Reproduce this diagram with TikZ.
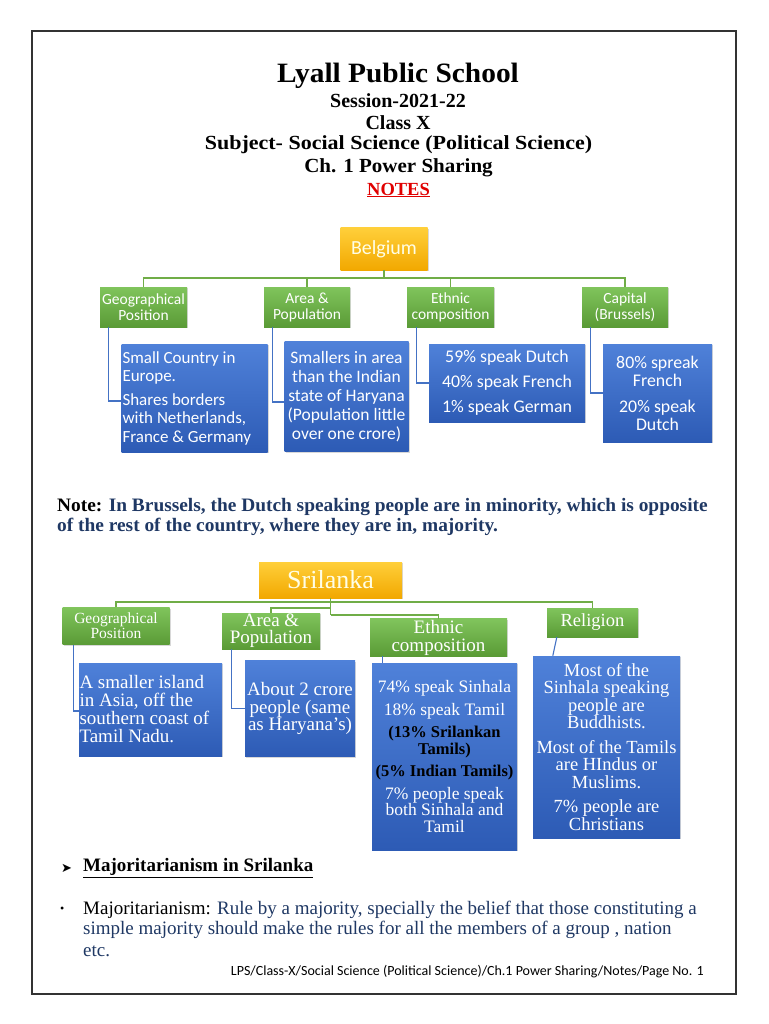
\documentclass[tikz,border=0pt]{standalone}
\usepackage{graphicx}
\usepackage{fontspec}
\setmainfont{Liberation Serif}
\newfontfamily\calfont{Carlito}
\newfontfamily\symfont{DejaVu Sans}
\usetikzlibrary{shadows}
\definecolor{navy}{HTML}{1F3864}
\definecolor{G1}{HTML}{80C45C}
\definecolor{G2}{HTML}{5A9B36}
\definecolor{B1}{HTML}{4F81D9}
\definecolor{B2}{HTML}{2D5BB5}
\definecolor{Y1}{HTML}{FFCF3A}
\definecolor{Y2}{HTML}{F2A800}
\definecolor{GL}{HTML}{70AD47}
\definecolor{BL}{HTML}{4472C4}
\definecolor{notered}{HTML}{E00000}
\tikzset{
  shad/.style={drop shadow={opacity=0.3,shadow xshift=1.3pt,shadow yshift=-1.3pt}},
  ybox/.style={top color=Y1, bottom color=Y2, text=white, align=center, inner sep=1pt, shad},
  gbox/.style={top color=G1, bottom color=G2, text=white, align=center, inner sep=1pt, shad},
  bbox/.style={top color=B1, bottom color=B2, text=white, align=center, inner sep=1pt, shad},
  gline/.style={draw=GL, line width=1.1pt},
  bline/.style={draw=BL, line width=1.1pt},
  hdr/.style={font=\bfseries\fontsize{20}{22}\selectfont, inner sep=0pt},
  txt/.style={anchor=west, inner sep=0pt},
}
\begin{document}
\begin{tikzpicture}[x=1pt,y=-1pt]
\useasboundingbox (0,0) rectangle (768,1024);
\fill[white] (0,0) rectangle (768,1024);
\draw[line width=1.5pt, draw=black!80] (32,31) rectangle (736,994);

% header
\node[font=\bfseries\fontsize{28}{30}\selectfont, inner sep=0pt] (t1) at (398,76) {\scalebox{1.05}[1]{Lyall Public School}};
\node[hdr] (t2) at (398,101) {Session-2021-22};
\node[hdr] (t3) at (398,123) {Class X};
\node[hdr] (t4) at (398.5,145) {\scalebox{1.1}[1]{Subject- Social Science (Political Science)}};
\node[hdr] (t5) at (398.5,168) {\scalebox{1.05}[1]{Ch. 1 Power Sharing}};
\node[hdr, font=\bfseries\fontsize{18.5}{22}\selectfont, text=notered] (t6) at (398.5,190) {\underline{NOTES}};

% Belgium
\node[ybox, minimum width=87pt, minimum height=42pt, font=\calfont\fontsize{20}{24}\selectfont, text=white!90!yellow] (bel) at (384,249) {Belgium};
\node[gbox, minimum width=87pt, minimum height=40pt, font=\calfont\fontsize{15.5}{16}\selectfont] (bg1) at (143.5,307) {Geographical\\Position};
\node[gbox, minimum width=86pt, minimum height=40pt, font=\calfont\fontsize{15.5}{16}\selectfont] (bg2) at (307,307) {Area \&\\Population};
\node[gbox, minimum width=87pt, minimum height=40pt, font=\calfont\fontsize{15.5}{16}\selectfont] (bg3) at (450.5,307) {Ethnic\\composition};
\node[gbox, minimum width=86pt, minimum height=40pt, font=\calfont\fontsize{15.5}{16}\selectfont] (bg4) at (625,307) {Capital\\(Brussels)};

\node[bbox, minimum width=146pt, minimum height=108pt, text width=144pt, align=flush left, font=\calfont\fontsize{17}{18.5}\selectfont] (bb1) at (194.5,398) {Small Country in\\Europe.\\[5pt]Shares borders\\with Netherlands,\\France \& Germany};
\node[bbox, minimum width=124pt, minimum height=110pt, font=\calfont\fontsize{17.5}{19}\selectfont] (bb2) at (346.5,396.5) {Smallers in area\\than the Indian\\state of Haryana\\(Population little\\over one crore)};
\node[bbox, minimum width=156pt, minimum height=78pt, font=\calfont\fontsize{17.8}{18}\selectfont] (bb3) at (507,383) {59\% speak Dutch\\[7pt]40\% speak French\\[7pt]1\% speak German};
\node[bbox, minimum width=109pt, minimum height=98pt, font=\calfont\fontsize{17.8}{18}\selectfont] (bb4) at (657.5,393) {80\% spreak\\French\\[8pt]20\% speak\\Dutch};

\coordinate (bj) at (384,278);
\draw[gline] (bel.south) -- (bj);
\draw[gline] (bg1.north) |- (bj);
\draw[gline] (bg2.north) |- (bj);
\draw[gline] (bg3.north) |- (bj);
\draw[gline] (bg4.north) |- (bj);

\draw[bline] ([xshift=9pt]bg1.south west) |- ([yshift=-3pt]bb1.west);
\draw[bline] ([xshift=9pt]bg2.south west) |- ([yshift=-5.5pt]bb2.west);
\draw[bline] ([xshift=10pt]bg3.south west) |- (bb3.west);
\draw[bline] ([xshift=9pt]bg4.south west) |- (bb4.west);

% Note
\node[txt, font=\bfseries\fontsize{19}{20}\selectfont] (n1) at (57,507) {\scalebox{1.02}[1]{Note: \textcolor{navy}{In Brussels, the Dutch speaking people are in minority, which is opposite}}};
\node[txt, font=\bfseries\fontsize{19}{20}\selectfont, text=navy] (n2) at (57,527) {\scalebox{1.02}[1]{of the rest of the country, where they are in, majority.}};

% Srilanka
\node[ybox, minimum width=143pt, minimum height=36pt, font=\fontsize{26}{28}\selectfont, text=white!90!yellow] (sri) at (330.5,580) {Srilanka};
\node[gbox, minimum width=107pt, minimum height=37pt, font=\fontsize{15.5}{15}\selectfont] (sg1) at (116,626) {Geographical\\Position};
\node[gbox, minimum width=98pt, minimum height=36pt, font=\fontsize{19}{17}\selectfont] (sg2) at (271,631) {Area \&\\Population};
\node[gbox, minimum width=137pt, minimum height=36pt, font=\fontsize{19}{18}\selectfont] (sg3) at (438.5,637.5) {Ethnic\\composition};
\node[gbox, minimum width=91pt, minimum height=29pt, font=\fontsize{18.5}{18}\selectfont] (sg4) at (592.5,622.5) {Religion};

\node[bbox, minimum width=143pt, minimum height=93pt, text width=142pt, align=flush left, inner sep=0.5pt, font=\fontsize{19}{18}\selectfont] (sb1) at (150.5,709.5) {A smaller island\\in Asia, off the\\southern coast of\\Tamil Nadu.};
\node[bbox, minimum width=110pt, minimum height=96pt, font=\fontsize{19}{17.5}\selectfont] (sb2) at (300,708.5) {About 2 crore\\people (same\\as Haryana's)};
\node[bbox, minimum width=145pt, minimum height=187pt, font=\fontsize{17.5}{16.5}\selectfont] (sb3) at (444.5,756.5) {74\% speak Sinhala\\[6pt]18\% speak Tamil\\[6pt]\textcolor{black}{\bfseries\fontsize{16.5}{16.5}\selectfont(13\% Srilankan}\\\textcolor{black}{\bfseries\fontsize{16.5}{16.5}\selectfont Tamils)}\\[6pt]\textcolor{black}{\bfseries\fontsize{16.5}{16.5}\selectfont(5\% Indian Tamils)}\\[6pt]7\% people speak\\both Sinhala and\\Tamil};
\node[bbox, minimum width=147pt, minimum height=182pt, font=\fontsize{18.5}{17.5}\selectfont] (sb4) at (606.5,747) {Most of the\\Sinhala speaking\\people are\\Buddhists.\\[7pt]Most of the Tamils\\are HIndus or\\Muslims.\\[7pt]7\% people are\\Christians};

\coordinate (sj1) at (330.5,602);
\coordinate (sj2) at (330.5,608);
\coordinate (sj3) at (330.5,615);
\draw[gline] (sri.south) -- (sj3);
\draw[gline] (sg1.north) |- (sj1) -| (sg4.north);
\draw[gline] (sg2.north) |- (sj2);
\draw[gline] (sg3.north) |- (sj3);

\draw[bline] ([xshift=11pt]sg1.south west) |- ([yshift=-1.5pt]sb1.west);
\draw[bline] ([xshift=10pt]sg2.south west) |- (sb2.west);
\draw[bline] ([xshift=13pt]sg3.south west) -- ([xshift=11pt]sb3.north west);
\draw[bline] ([xshift=10pt]sg4.south west) -- ([xshift=20pt]sb4.north west);

% Majoritarianism
\node[txt, font=\symfont\fontsize{13}{14}\selectfont] (arr) at (61,868) {➤};
\node[txt, font=\bfseries\fontsize{19}{20}\selectfont] (mh) at (83,868) {\underline{Majoritarianism in Srilanka}};
\node[txt, font=\fontsize{12}{14}\selectfont] (bul) at (60,910) {•};
\node[txt, font=\fontsize{19}{20}\selectfont] (m1) at (83,910) {Majoritarianism: \textcolor{navy}{Rule by a majority, specially the belief that those constituting a}};
\node[txt, font=\fontsize{19}{20}\selectfont, text=navy] (m2) at (83,930) {simple majority should make the rules for all the members of a group , nation};
\node[txt, font=\fontsize{19}{20}\selectfont, text=navy] (m3) at (83,951) {etc.};

\node[anchor=east, inner sep=0pt, font=\calfont\fontsize{14}{14}\selectfont] (foot) at (704,972) {LPS/Class-X/Social Science (Political Science)/Ch.1 Power Sharing/Notes/Page No. 1};
\end{tikzpicture}
\end{document}
